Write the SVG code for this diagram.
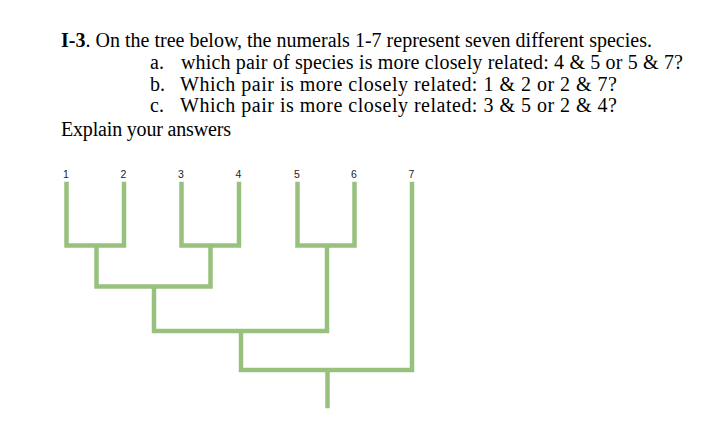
<svg xmlns="http://www.w3.org/2000/svg" width="720" height="426" viewBox="0 0 720 426">
<style>
.q{font-family:"Liberation Serif","Times New Roman",serif;font-size:20px;fill:#000}
.lbl{font-family:"Liberation Sans",Arial,sans-serif;font-size:10.5px;fill:#222;text-anchor:middle}
.br{fill:none;stroke:#97c17d;stroke-width:4.5;stroke-linejoin:miter;stroke-linecap:square}
</style>
<rect width="720" height="426" fill="#fff"/>
<g id="question">
<text class="q" x="61" y="46.5" textLength="591" lengthAdjust="spacing"><tspan font-weight="bold">I-3</tspan>. On the tree below, the numerals 1-7 represent seven different species.</text>
<text class="q" x="150" y="68.5">a.</text>
<text class="q" x="181" y="68.5" textLength="502" lengthAdjust="spacing">which pair of species is more closely related: 4 &amp; 5 or 5 &amp; 7?</text>
<text class="q" x="150" y="90.5">b.</text>
<text class="q" x="180" y="90.5" textLength="437" lengthAdjust="spacing">Which pair is more closely related: 1 &amp; 2 or 2 &amp; 7?</text>
<text class="q" x="150" y="112">c.</text>
<text class="q" x="180" y="112" textLength="437" lengthAdjust="spacing">Which pair is more closely related: 3 &amp; 5 or 2 &amp; 4?</text>
<text class="q" x="61" y="136" textLength="170" lengthAdjust="spacing">Explain your answers</text>
</g>
<g id="labels">
<text id="sp1" class="lbl" x="66" y="177.5">1</text>
<text id="sp2" class="lbl" x="123.5" y="177.5">2</text>
<text id="sp3" class="lbl" x="181" y="177.5">3</text>
<text id="sp4" class="lbl" x="238.5" y="177.5">4</text>
<text id="sp5" class="lbl" x="297" y="177.5">5</text>
<text id="sp6" class="lbl" x="354" y="177.5">6</text>
<text id="sp7" class="lbl" x="411.5" y="177.5">7</text>
</g>
<g id="connectors">
<path id="c12" class="br" d="M66.5,184 V245.5 H124 V184"/>
<path id="c34" class="br" d="M181.5,184 V245.5 H239 V184"/>
<path id="c56" class="br" d="M297.5,184 V245.5 H354.5 V184"/>
<path id="c1234" class="br" d="M96.5,247 V286.5 H210.5 V247"/>
<path id="c123456" class="br" d="M154,288 V331 H327 V247"/>
<path id="call" class="br" d="M241,333 V370 H412 V184"/>
<path id="root" class="br" d="M327.5,372 V406"/>
</g>
</svg>
